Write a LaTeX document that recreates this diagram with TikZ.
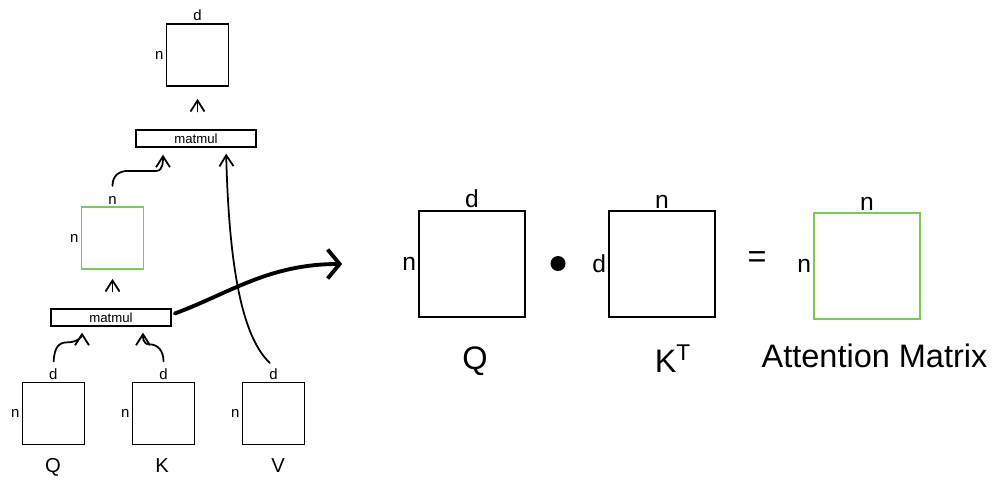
\documentclass[tikz,border=0pt]{standalone}
\usepackage{fontspec}
\setmainfont{Liberation Sans}
\usetikzlibrary{positioning,arrows.meta}
\definecolor{attgreen}{HTML}{7CC85A}
\tikzset{
  mx/.style={draw, line width=1pt, inner sep=0pt, minimum size=1.24cm, label distance=1pt},
  mx big/.style={mx, minimum size=2.12cm, label distance=2.5pt},
  mx att/.style={draw=attgreen},
  opbox/.style={draw, line width=1pt, inner sep=0pt, minimum width=2.4cm, minimum height=0.33cm,
                font=\fontsize{7.5}{8}\selectfont},
  dim/.style={font=\fontsize{8.5}{10}\selectfont, inner sep=1pt},
  dim big/.style={font=\fontsize{14}{16}\selectfont, inner sep=1pt},
  mxname/.style={font=\fontsize{11.5}{13}\selectfont, inner sep=0pt, anchor=base},
  mxname big/.style={font=\fontsize{18.5}{21}\selectfont, inner sep=0pt, anchor=base},
  flow/.style={-{Straight Barb[length=2.2mm, width=2.8mm]}, line width=1pt, line cap=round},
  flow big/.style={-{Straight Barb[length=2.4mm, width=5.8mm]}, line width=2.2pt, line cap=round},
}
\begin{document}
\begin{tikzpicture}[x=0.02cm, y=-0.02cm]
  \useasboundingbox (0,0) rectangle (1000,485);
  % inputs Q, K, V
  \foreach \n/\x/\lx/\t in {q/53.4/53/Q, k/163.5/162/K, v/273.5/278/V} {
    \node[mx, label={[dim, name=d\n]above:d}, label={[dim]left:n}] (\n) at (\x,413.4) {};
    \node[mxname] (name\n) at (\lx,472) {\t};
  }
  % Q K^T, then the attention scores times V
  \node[opbox] (mmqk) at (111,317.5) {matmul};
  \node[mx, mx att, label={[dim, name=nA]above:n}, label={[dim]left:n}] (A) at (112.5,238) {};
  \node[opbox] (mmv) at (196,138.5) {matmul};
  \node[mx, label={[dim]above:d}, label={[dim]left:n}] (out) at (197.5,55) {};
  \draw[flow, shorten <=0.1cm, shorten >=0.12cm] (dq.north) .. controls +(1,-20) and +(-8,0) .. ++(14,-24)
     .. controls +(10,0) and +(0,10) .. ([xshift=-0.58cm]mmqk.south);
  \draw[flow, shorten <=0.1cm, shorten >=0.12cm] (dk.north) .. controls +(0,-16) and +(8,0) .. ++(-14,-22)
     .. controls +(-7,0) and +(0,10) .. ([xshift=0.64cm]mmqk.south);
  \draw[flow, shorten <=0.34cm, shorten >=0.18cm] (mmqk.north -| A.south) -- (A.south);
  \draw[flow, shorten <=0.16cm, shorten >=0.14cm] (nA.north) .. controls +(0,-18) and +(-10,0) .. ++(16,-23)
     -- ++(28,0) .. controls +(7,0) and +(0,12) .. ([xshift=-0.66cm]mmv.south);
  \draw[flow, shorten <=0.1cm, shorten >=0.12cm] (dv.north) .. controls +(-32,-30) and +(3,117) .. ([xshift=0.6cm]mmv.south);
  \draw[flow, shorten <=0.36cm, shorten >=0.24cm] (mmv.north -| out.south) -- (out.south);
  % zoom on the first matmul
  \node[mx big, label={[dim big]above:d}, label={[dim big]left:n}] (qbig) at (472,264) {};
  \node[circle, fill, inner sep=0pt, minimum size=0.3cm] (dot) at (558,263.5) {};
  \node[mx big, label={[dim big]above:n}, label={[dim big]left:d}] (kbig) at (662,264) {};
  \node[font=\fontsize{18.5}{21}\selectfont, inner sep=0pt] (eq) at (757,260) {=};
  \node[mx big, mx att, label={[dim big]above:n}, label={[dim big]left:n}] (abig) at (867,266) {};
  \node[mxname big] (nameq) at (475,369) {Q};
  \node[mxname big] (namek) at (673,372) {K\textsuperscript{T}};
  \node[mxname big] (namea) at (874.5,367) {Attention Matrix};
  \draw[flow big] ([xshift=0.06cm, yshift=0.08cm]mmqk.east) .. controls +(56,-21) and +(-73,0) .. ([xshift=-1.52cm]qbig.west);
\end{tikzpicture}
\end{document}
